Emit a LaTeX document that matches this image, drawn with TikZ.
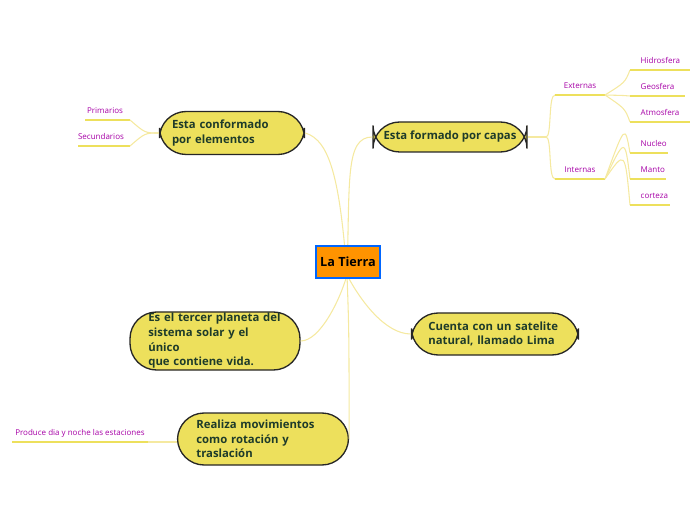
\documentclass[tikz,border=0pt]{standalone}
\usepackage{fontspec}
\setmainfont{Open Sans}
\begin{document}
\begin{tikzpicture}[x=0.75pt,y=-0.75pt,
 topic/.style={draw=black!85,line width=1pt,fill=topicfill,rounded corners=20pt,align=left,font=\bfseries\fontsize{8.5}{11}\selectfont,text=textgreen,inner sep=0pt},
 leaf/.style={font=\fontsize{6}{7}\selectfont,text=violet!70!magenta},
 conn/.style={draw=linecol,line width=0.8pt},
 under/.style={draw=undercol,line width=1.3pt}]
\definecolor{topicfill}{HTML}{EDE05C}
\definecolor{textgreen}{HTML}{1E3B2A}
\definecolor{linecol}{HTML}{F5E9A0}
\definecolor{undercol}{HTML}{EDE05C}
\useasboundingbox (0,0) rectangle (696,520);
\node[topic,minimum width=154pt*0.75,minimum height=30*0.75pt] (capas) at (450,137) {Esta formado por capas};
\node[topic,minimum width=145*0.75pt,minimum height=43*0.75pt,text width=90pt] (elem) at (232,133) {Esta conformado\\por elementos};
\node[topic,minimum width=170*0.75pt,minimum height=58*0.75pt,text width=100pt] (tercer) at (215,341) {Es el tercer planeta del\\sistema solar y el único\\que contiene vida.};
\node[topic,minimum width=167*0.75pt,minimum height=42*0.75pt,text width=100pt] (sat) at (495,334) {Cuenta con un satelite\\natural, llamado Lima};
\node[topic,minimum width=171*0.75pt,minimum height=52*0.75pt,text width=100pt] (mov) at (263,439) {Realiza movimientos\\como rotación y\\traslación};
% connectors
\coordinate (c) at (347,275);
\draw[conn] (c) .. controls (350,180) and (345,137) .. (capas.west);
\draw[conn] (c) .. controls (340,180) and (330,140) .. (elem.east);
\draw[conn] (c) .. controls (340,300) and (320,341) .. (tercer.east);
\draw[conn] (c) .. controls (360,300) and (385,334) .. (sat.west);
\draw[conn] (c) .. controls (349,330) .. (mov.east);
\node[draw=blue!60!cyan,line width=1pt,fill=orange!85!yellow,font=\bfseries\fontsize{9.5}{11}\selectfont,text=black,minimum width=64*0.75pt,minimum height=32*0.75pt,inner sep=0pt] (t) at (348,262) {La Tierra};
% capas subtree
\coordinate (cb) at (546,137);
\coordinate (ex0) at (555,95); \coordinate (ex1) at (605,95);
\coordinate (in0) at (555,179); \coordinate (in1) at (605,179);
\draw[conn] (capas.east) -- (cb);
\draw[conn] (cb) .. controls (552,137) and (548,95) .. (ex0);
\draw[conn] (cb) .. controls (552,137) and (548,179) .. (in0);
\draw[under] (ex0) -- (ex1); \draw[under] (in0) -- (in1);
\node[leaf] (ext) at (580,86) {Externas};
\node[leaf] (int) at (580,170) {Internas};
\foreach \n/\t/\y/\e/\p in {h/Hidrosfera/70/690/ex1,g/Geosfera/96/685/ex1,a/Atmosfera/122/690/ex1,n/Nucleo/153/668/in1,m/Manto/179/666/in1,k/corteza/205/670/in1}{
 \coordinate (\n0) at (630,\y); \coordinate (\n1) at (\e,\y);
 \draw[conn] (\p) .. controls (625,{0.5*(\y+95)}) .. (\n0);
 \draw[under] (\n0) -- (\n1);
 \node[leaf,anchor=south west] (\n) at (636,\y-2) {\t};
}
% elementos
\coordinate (p0) at (85,120); \coordinate (p1) at (130,120);
\coordinate (s0) at (78,146); \coordinate (s1) at (130,146);
\draw[under] (p0) -- (p1); \draw[under] (s0) -- (s1);
\draw[conn] (elem.west) .. controls (145,133) .. (p1);
\draw[conn] (elem.west) .. controls (145,133) .. (s1);
\node[leaf] (pri) at (105,111) {Primarios};
\node[leaf] (sec) at (101,137) {Secundarios};
% movimientos
\coordinate (d0) at (12,442); \coordinate (d1) at (148,442);
\draw[under] (d0) -- (d1);
\draw[conn] (d1) -- (mov.west |- d1);
\node[leaf] (dia) at (80,433) {Produce dia y noche las estaciones};
\end{tikzpicture}
\end{document}
